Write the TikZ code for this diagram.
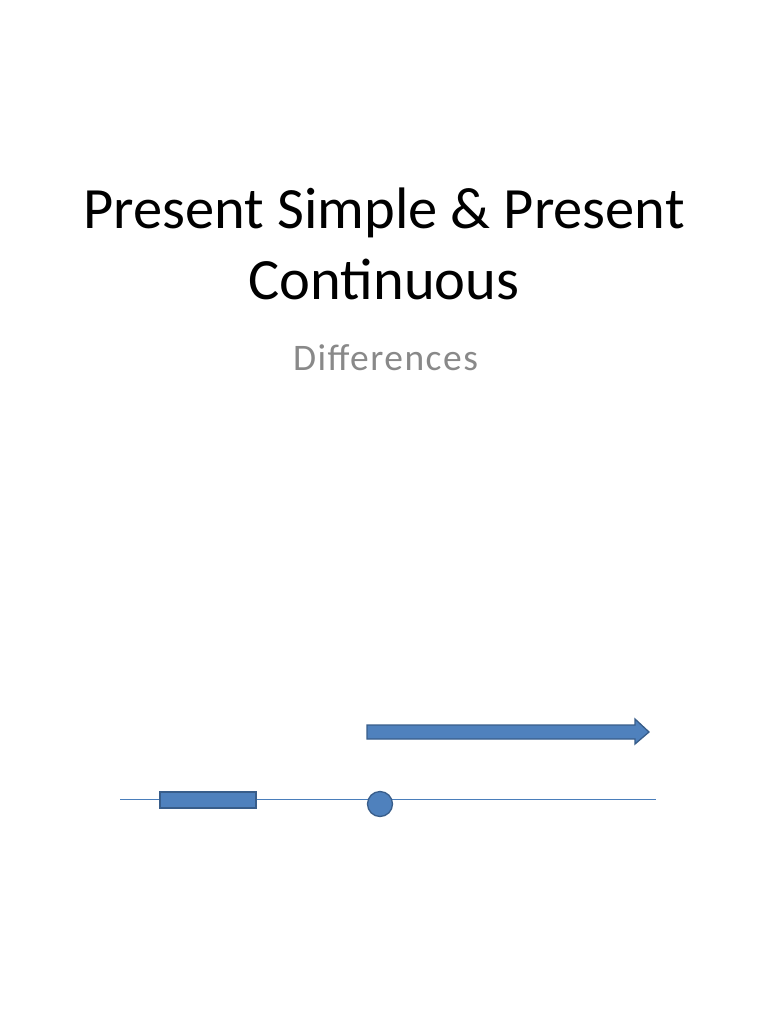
\documentclass[tikz,border=0pt]{standalone}
\usepackage{fontspec}
\setmainfont{Carlito}
\newfontfamily\subfont[LetterSpace=4]{Carlito}
\begin{document}
\begin{tikzpicture}[x=1pt,y=-1pt,
  shapefill/.style={fill={rgb,255:red,79;green,129;blue,189},draw={rgb,255:red,56;green,93;blue,138},line width=1.3pt},
  titletext/.style={anchor=base,inner sep=0pt,font=\fontsize{58.5}{70}\selectfont},
  subtext/.style={anchor=base,inner sep=0pt,text={rgb,255:red,137;green,137;blue,137},font=\subfont\fontsize{37.5}{40}\selectfont}]
\useasboundingbox (0,0) rectangle (768,1024);
\node[titletext] (t1) at (384,228.5) {Present Simple \& Present};
\node[titletext] (t2) at (384,299) {Continuous};
\node[subtext] (sub) at (385.5,370.5) {Differences};
% timeline
\draw[draw={rgb,255:red,74;green,126;blue,187},line width=0.9pt] (120,799) -- (656,799);
\node[shapefill,rectangle,minimum width=96pt,minimum height=16pt,inner sep=0pt] (box) at (208,800) {};
\node[shapefill,circle,minimum size=25pt,inner sep=0pt] (now) at (380,804) {};
% arrow
\draw[shapefill,line join=miter] (367,725) -- (635,725) -- (635,719) -- (649,732) -- (635,744) -- (635,739) -- (367,739) -- cycle;
\end{tikzpicture}
\end{document}
